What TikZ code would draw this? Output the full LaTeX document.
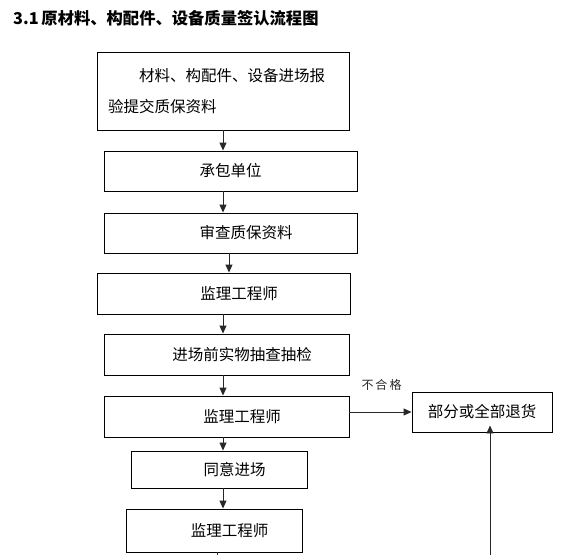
\documentclass[tikz,border=0pt]{standalone}
\usepackage{fontspec}
\setmainfont{Noto Sans CJK SC}
\usepackage{xcolor}
\definecolor{Col1}{RGB}{0,0,0}
\definecolor{Col2}{RGB}{40,40,40}
\usepackage{tikz}
\usetikzlibrary{arrows.meta}
\tikzstyle{Box}=[rectangle,draw=Col1,line width=0.9pt,inner sep=0pt,
font=\fontsize{15.5}{31}\selectfont]
\tikzstyle{Flow}=[draw=Col2,line width=0.9pt,-{Triangle[length=8pt,width=7pt]}]
\tikzstyle{Line}=[draw=Col2,line width=0.9pt]
\tikzstyle{NodeST}=[font=\fontsize{12}{14}\selectfont,text=Col2,inner sep=0pt]
\newcommand{\Ind}{\hspace*{2em}}

\begin{document}
\begin{tikzpicture}[x=1pt,y=-1pt]
        \useasboundingbox(0,0)rectangle(565,555);
        \node[anchor=west,inner sep=0pt,font=\fontsize{16.3}{18}\selectfont\bfseries]
            (t)at(13,18){3.1\,原材料、构配件、设备质量签认流程图};
        \node[Box,minimum width=252pt,minimum height=78pt,
            text width=230pt,align=left](1)at(223,91)
            {\Ind 材料、构配件、设备进场报\\验提交质保资料};
        \node[Box,minimum width=253pt,minimum height=40pt](2)at(230.5,171)
            {承包单位};
        \node[Box,minimum width=253pt,minimum height=40pt](3)at(230.5,233)
            {\Ind 审查质保资料};
        \node[Box,minimum width=253pt,minimum height=41pt](4)at(223.5,293.5)
            {\Ind 监理工程师};
        \node[Box,minimum width=245pt,minimum height=41pt](5)at(226.5,354.5)
            {\Ind 进场前实物抽查抽检};
        \node[Box,minimum width=245pt,minimum height=41pt](6)at(226.5,416.5)
            {\Ind 监理工程师};
        \node[Box,minimum width=176pt,minimum height=37pt](7)at(219,469.5)
            {\Ind 同意进场};
        \node[Box,minimum width=176pt,minimum height=43pt](8)at(214,530.5)
            {\Ind 监理工程师};
        \node[Box,minimum width=140pt,minimum height=40pt](r)at(482,412)
            {部分或全部退货};
        \node[NodeST](n)at(381.5,385){不\,合\,格};
        \coordinate(a)at(223,0);
        \coordinate(b)at(229,0);
        \coordinate(e)at(217,555);
        \coordinate(u)at(490,555);
        \draw[Flow](1.south)--(1.south|-2.north);
        \draw[Flow](2.south-|a)--(3.north-|a);
        \draw[Flow](3.south-|b)--(4.north-|b);
        \draw[Flow](4.south-|a)--(5.north-|a);
        \draw[Flow](5.south-|a)--(6.north-|a);
        \draw[Flow](6.south-|a)--(7.north-|a);
        \draw[Flow](7.south-|a)--(8.north-|a);
        \draw[Line](8.south-|e)--(e);
        \draw[Flow](6.east|-r.west)--(r.west);
        \draw[Flow](u)--([yshift=7pt]r.south-|u);
    \end{tikzpicture}
\end{document}
